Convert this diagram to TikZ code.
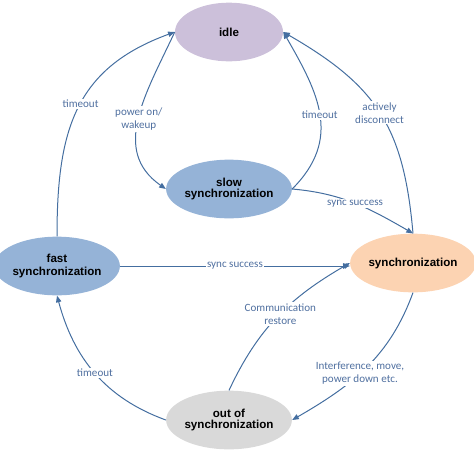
\documentclass[tikz,border=0pt]{standalone}
\usepackage{fontspec}
\setmainfont{Carlito}
\newfontfamily\zustandfont{Liberation Sans}
\usetikzlibrary{shapes.geometric,arrows.meta}
\definecolor{idlecol}{RGB}{204,192,218}
\definecolor{synccol}{RGB}{149,179,215}
\definecolor{okcol}{RGB}{252,211,178}
\definecolor{lostcol}{RGB}{217,217,217}
\definecolor{pfeilcol}{RGB}{68,110,160}
\definecolor{textcol}{RGB}{80,112,160}
\tikzset{
	zustand/.style={ellipse, minimum width=81pt, minimum height=44pt, inner sep=0pt,
	align=center, font=\zustandfont\bfseries\fontsize{8.7}{8}\selectfont},
	uebergang/.style={draw=pfeilcol, line width=0.75pt, -{Triangle[length=5pt,width=4pt]}},
	beschriftung/.style={fill=white, inner sep=1pt, align=center, text=textcol,
	font=\fontsize{8.3}{9.75}\selectfont}
}
\begin{document}
\begin{tikzpicture}[x=0.75pt, y=-0.75pt]
	\useasboundingbox (0,0) rectangle (474,457);
	% Zustaende
	\node[zustand, fill=idlecol] (idle) at (229,32) {idle};
	\node[zustand, fill=synccol] (slow) at (229,189) {slow\\synchronization};
	\node[zustand, fill=synccol, font=\zustandfont\bfseries\fontsize{8.7}{10}\selectfont]
	(fast) at (57,266) {fast\\synchronization};
	\node[zustand, fill=okcol] (sync) at (413,263) {synchronization};
	\node[zustand, fill=lostcol] (lost) at (229,420) {out of\\synchronization};
	% Uebergaenge oben
	\draw[uebergang] (fast.north) to[out=90,in=-160, looseness=1.15] node[beschriftung,
	pos=0.52] {timeout} (idle.west);
	\draw[uebergang] (idle.west) to[out=-115,in=145, looseness=1.1] node[beschriftung,
	pos=0.5] {power on/\\wakeup} (slow.west);
	\draw[uebergang] (slow.east) to[out=45,in=-60, looseness=1.15] node[beschriftung,
	pos=0.5] {timeout} (idle.east);
	\draw[uebergang] (sync.north) to[out=95,in=-30, looseness=1.15] node[beschriftung,
	pos=0.5] {actively\\disconnect} (idle.east);
	\draw[uebergang] (slow.east) to[out=-5,in=150] node[beschriftung, pos=0.5]
	{sync success} (sync.north);
	% Uebergaenge unten
	\draw[uebergang] (fast.east) -- node[beschriftung, pos=0.5] {sync success}
	(fast.east -| sync.west);
	\draw[uebergang] (lost.north) to[out=65,in=-150] node[beschriftung, pos=0.52]
	{Communication\\restore} (sync.west);
	\draw[uebergang] (sync.south) to[out=-110,in=30] node[beschriftung, pos=0.55]
	{Interference, move,\\power down etc.} (lost.east);
	\draw[uebergang] (lost.west) to[out=160,in=-75] node[beschriftung, pos=0.5]
	{timeout} (fast.south);
\end{tikzpicture}
\end{document}
